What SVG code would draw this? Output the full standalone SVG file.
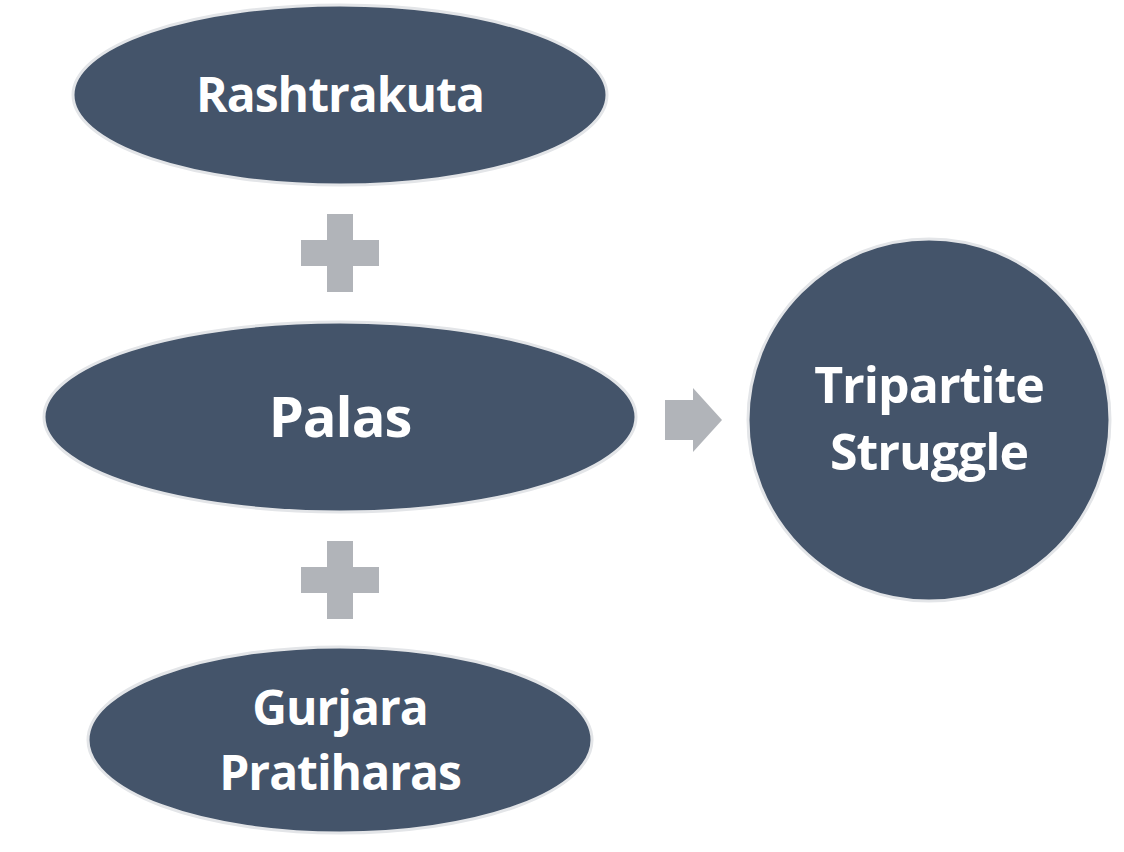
<svg xmlns="http://www.w3.org/2000/svg" width="1124" height="852" viewBox="0 0 1124 852">
<style>
.n{fill:#44546a;stroke:#e3e5e8;stroke-width:3}
.t{fill:#fff;font-family:"Open Sans","Liberation Sans",sans-serif;font-weight:bold;text-anchor:middle;letter-spacing:-1px}
.c{fill:#b1b4b9}
</style>
<rect width="1124" height="852" fill="#fff"/>
<g id="rashtrakuta"><ellipse class="n" cx="340" cy="95" rx="267" ry="90"/><text class="t" x="340" y="112" font-size="48">Rashtrakuta</text></g>
<g id="palas"><ellipse class="n" cx="340" cy="417" rx="296" ry="95"/><text class="t" x="340" y="437" font-size="56">Palas</text></g>
<g id="gurjara"><ellipse class="n" cx="340" cy="740" rx="252" ry="93"/><text class="t" x="340" y="725" font-size="48">Gurjara</text><text class="t" x="340" y="790" font-size="48">Pratiharas</text></g>
<g id="tripartite"><circle class="n" cx="929" cy="420" r="181"/><text class="t" x="929" y="403" font-size="50">Tripartite</text><text class="t" x="929" y="470" font-size="50">Struggle</text></g>
<g id="connectors">
<path class="c" d="M327 214h26v26h26v26h-26v26h-26v-26h-26v-26h26z"/>
<path class="c" d="M327 541h26v26h26v26h-26v26h-26v-26h-26v-26h26z"/>
<path class="c" d="M665 400h28v-12l29 32-29 32v-12h-28z"/>
</g>
</svg>
